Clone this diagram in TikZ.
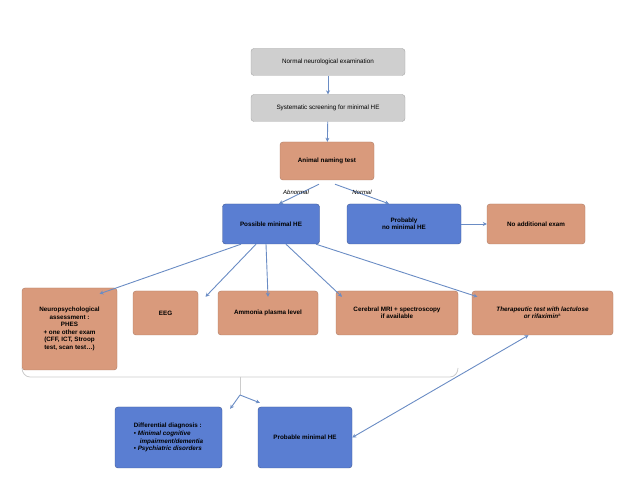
\documentclass[tikz,border=0pt]{standalone}
\usepackage{fontspec}
\setmainfont{Liberation Sans}
\usetikzlibrary{arrows.meta}
\definecolor{gfill}{HTML}{CFCFCF}
\definecolor{ofill}{HTML}{D99A7C}
\definecolor{bfill}{HTML}{5A7ED2}
\definecolor{arr}{HTML}{6A8CC4}
\begin{document}
\begin{tikzpicture}[x=1pt,y=-1pt,
  base/.style={rounded corners=3pt,align=center,font=\fontsize{6.3}{7.5}\selectfont\bfseries,inner sep=1pt},
  gbox/.style={base,fill=gfill,draw=gray!70,font=\fontsize{6.3}{7.5}\selectfont},
  obox/.style={base,fill=ofill,draw=ofill!80!black},
  bbox/.style={base,fill=bfill,draw=bfill!70!black},
  ar/.style={-{Stealth[length=4pt,width=4pt]},draw=arr,line width=0.9pt}]
\useasboundingbox (0,0) rectangle (638,478);
\node[gbox,minimum width=154,minimum height=27] (norm) at (328,62) {Normal neurological examination};
\node[gbox,minimum width=154,minimum height=27] (scr) at (328,108) {Systematic screening for minimal HE};
\node[obox,minimum width=94,minimum height=38] (ant) at (327,161) {Animal naming test};
\node[bbox,minimum width=97,minimum height=40] (pos) at (271,224) {Possible minimal HE};
\node[bbox,minimum width=114,minimum height=40] (prob) at (404,224) {Probably\\no minimal HE};
\node[obox,minimum width=98,minimum height=40] (noadd) at (536,224) {No additional exam};
\node[obox,minimum width=95,minimum height=82] (neuro) at (69.5,329) {Neuropsychological\\assessment :\\PHES\\+ one other exam\\(CFF, ICT, Stroop\\test, scan test…)};
\node[obox,minimum width=65,minimum height=44] (eeg) at (165.5,313) {EEG};
\node[obox,minimum width=100,minimum height=44] (amm) at (268,313) {Ammonia plasma level};
\node[obox,minimum width=122,minimum height=44] (mri) at (397,313) {Cerebral MRI + spectroscopy\\if available};
\node[obox,minimum width=141,minimum height=44] (ther) at (542.5,313) {\itshape Therapeutic test with lactulose\\\itshape or rifaximin$^{\mathrm{a}}$};
\node[bbox,minimum width=107,minimum height=61,align=left] (diff) at (168.5,437.5) {Differential diagnosis :\\[1pt]
\textbullet\ \itshape Minimal cognitive\\\hspace*{6pt}\itshape impairment/dementia\\\textbullet\ \itshape Psychiatric disorders};
\node[bbox,minimum width=94,minimum height=61] (pme) at (305,437.5) {Probable minimal HE};
\draw[ar] (norm) -- (scr);
\draw[ar] (scr) -- (ant);
\draw[ar] (ant.south)++(-8,4) coordinate (a1) -- ([xshift=8pt]pos.north);
\draw[ar] (ant.south)++(8,4) coordinate (a2) -- ([xshift=-15pt]prob.north);
\node[font=\fontsize{6}{7}\selectfont\itshape] (lab1) at (296,192) {Abnormal};
\node[font=\fontsize{6}{7}\selectfont\itshape] (lab2) at (362,192) {Normal};
\draw[ar] (prob) -- (noadd);
\draw[ar] ([xshift=-30pt]pos.south) -- ([xshift=30pt,yshift=-6pt]neuro.north);
\draw[ar] ([xshift=-15pt]pos.south) -- ([xshift=40pt,yshift=-6pt]eeg.north);
\draw[ar] ([xshift=-5pt]pos.south) -- ([yshift=-6pt]amm.north);
\draw[ar] ([xshift=15pt]pos.south) -- ([xshift=-55pt,yshift=-6pt]mri.north);
\draw[ar] ([xshift=45pt]pos.south) -- ([xshift=-65pt,yshift=-6pt]ther.north);
\draw[gray!40,line width=0.8pt] (22,368) to[out=-90,in=180] (30,377) -- (450,377) to[out=0,in=-90] (458,368);
\coordinate (bt) at (240,377);
\coordinate (bb) at (240,395);
\draw[gray!40,line width=0.8pt] (bt) -- (bb);
\draw[ar] (bb) -- ([xshift=8pt,yshift=-2pt]diff.north east);
\draw[ar] (bb) -- ([xshift=2pt,yshift=4pt]pme.north west);
\draw[{Stealth[length=4pt,width=4pt]}-{Stealth[length=4pt,width=4pt]},draw=arr,line width=0.9pt] (pme.east) -- ([xshift=-14pt]ther.south);
\end{tikzpicture}
\end{document}
